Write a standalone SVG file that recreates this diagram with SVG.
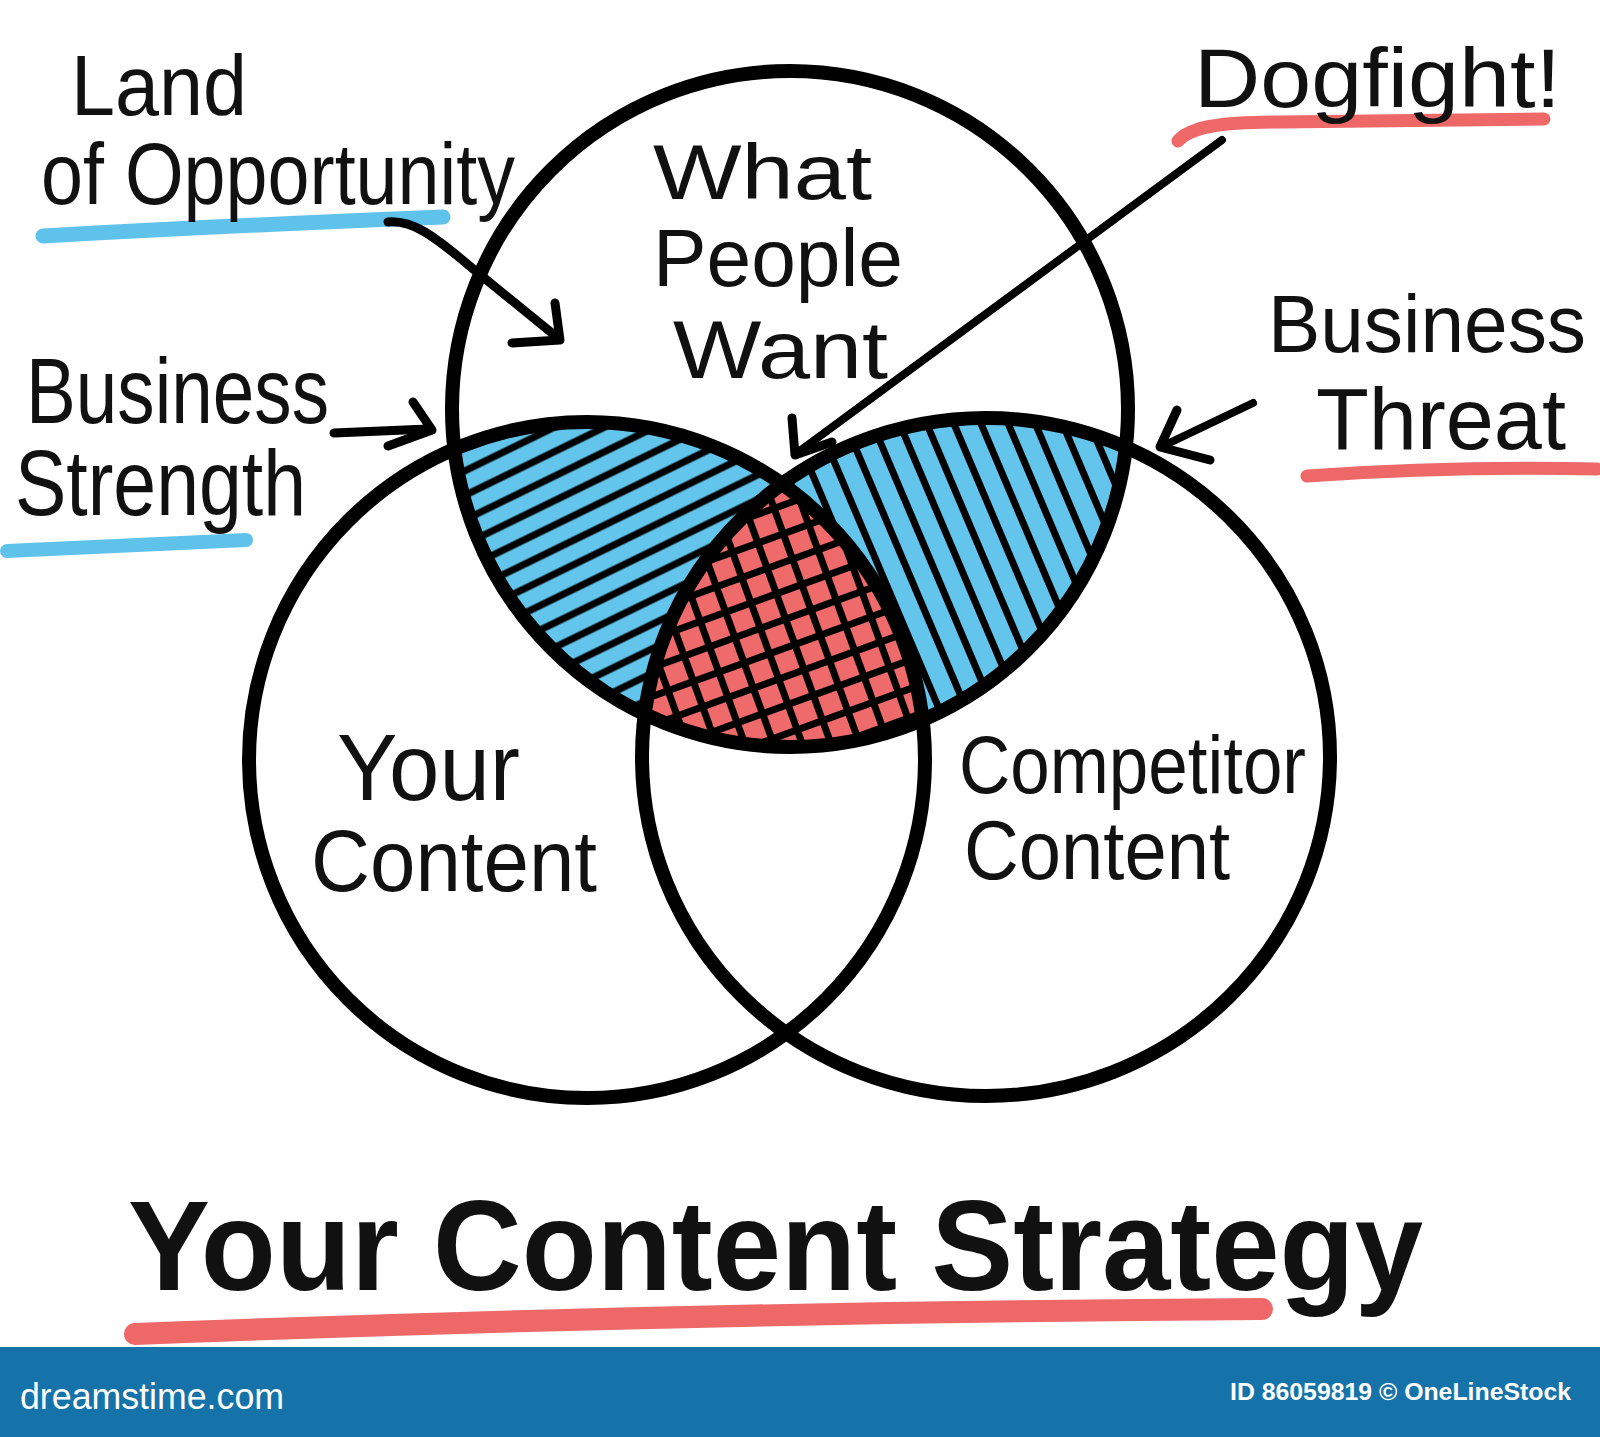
<svg xmlns="http://www.w3.org/2000/svg" width="1600" height="1437" viewBox="0 0 1600 1437">
<style>
.lbl{font-family:"Liberation Sans","Open Sans",sans-serif;fill:#111}
.ring{fill:none;stroke:#000;stroke-width:14}
.arr{fill:none;stroke:#000;stroke-width:9;stroke-linecap:round;stroke-linejoin:round}
.ulb{fill:none;stroke:#5fc2ea;stroke-width:15;stroke-linecap:round}
.ulr{fill:none;stroke:#ee6868;stroke-width:13;stroke-linecap:round}
</style>
<defs>
<clipPath id="cTop"><circle cx="790" cy="409" r="338"/></clipPath>
<clipPath id="cLeft"><circle cx="587" cy="760" r="338"/></clipPath>
<clipPath id="cRight"><ellipse cx="986" cy="757" rx="344" ry="339"/></clipPath>
<pattern id="hatchL" width="60" height="22" patternUnits="userSpaceOnUse" patternTransform="rotate(-26)">
<line x1="-1" y1="11" x2="61" y2="11" stroke="#000" stroke-width="7"/>
</pattern>
<pattern id="hatchR" width="60" height="25" patternUnits="userSpaceOnUse" patternTransform="rotate(67)">
<line x1="-1" y1="12.5" x2="61" y2="12.5" stroke="#000" stroke-width="7"/>
</pattern>
<pattern id="grid" width="27" height="27" patternUnits="userSpaceOnUse" patternTransform="rotate(-20)">
<line x1="-1" y1="13.5" x2="28" y2="13.5" stroke="#000" stroke-width="7"/>
<line x1="13.5" y1="-1" x2="13.5" y2="28" stroke="#000" stroke-width="7"/>
</pattern>
</defs>
<rect width="1600" height="1437" fill="#fff"/>

<!-- shaded regions -->
<g id="regions">
  <g clip-path="url(#cTop)">
    <circle cx="587" cy="760" r="338" fill="#64c5ec"/>
    <ellipse cx="986" cy="757" rx="344" ry="339" fill="#64c5ec"/>
    <g clip-path="url(#cLeft)"><rect x="400" y="380" width="600" height="400" fill="url(#hatchL)"/></g>
    <g clip-path="url(#cRight)"><rect x="600" y="380" width="560" height="400" fill="url(#hatchR)"/></g>
    <g clip-path="url(#cLeft)"><g clip-path="url(#cRight)">
      <rect x="600" y="450" width="350" height="320" fill="#ef6a6a"/>
      <rect x="600" y="450" width="350" height="320" fill="url(#grid)"/>
    </g></g>
  </g>
</g>

<g id="node-top"><circle class="ring" cx="790" cy="409" r="338"/></g>
<g id="node-left"><circle class="ring" cx="587" cy="760" r="338"/></g>
<g id="node-right"><ellipse class="ring" cx="986" cy="757" rx="344" ry="339"/></g>

<!-- underlines -->
<g id="underlines">
  <path class="ulb" d="M43,236 Q220,226 443,217"/>
  <path class="ulb" d="M7,551 Q120,546 246,540" style="stroke-width:14"/>
  <path class="ulr" d="M1178,141 C1190,127 1220,122 1280,122 L1544,119"/>
  <path class="ulr" d="M1307,476 Q1450,466 1597,469"/>
  <path class="ulr" d="M135,1334 Q700,1312 1262,1309" style="stroke-width:22"/>
</g>

<g id="connectors">
  <path class="arr" d="M388,222 C412,220 432,234 472,268 L558,338"/>
  <path class="arr" d="M555,303 L560,340 L512,343"/>
  <path class="arr" d="M334,433 L428,429"/>
  <path class="arr" d="M413,402 L432,430 L388,446"/>
  <path class="arr" d="M1222,140 L797,453" style="stroke-width:8"/>
  <path class="arr" d="M792,418 L795,455 L832,442"/>
  <path class="arr" d="M1253,403 L1163,446" style="stroke-width:8"/>
  <path class="arr" d="M1177,410 L1160,447 L1210,460"/>
</g>

<g id="label-land">
  <text class="lbl" x="71" y="115" font-size="86" textLength="176" lengthAdjust="spacingAndGlyphs">Land</text>
  <text class="lbl" x="41" y="204" font-size="88" textLength="474" lengthAdjust="spacingAndGlyphs">of Opportunity</text>
</g>
<g id="label-strength">
  <text class="lbl" x="26" y="423" font-size="92" textLength="303" lengthAdjust="spacingAndGlyphs">Business</text>
  <text class="lbl" x="15" y="515" font-size="92" textLength="291" lengthAdjust="spacingAndGlyphs">Strength</text>
</g>
<g id="label-want">
  <text class="lbl" x="653" y="199" font-size="78" textLength="219" lengthAdjust="spacingAndGlyphs">What</text>
  <text class="lbl" x="653" y="286" font-size="82" textLength="250" lengthAdjust="spacingAndGlyphs">People</text>
  <text class="lbl" x="673" y="378" font-size="82" textLength="215" lengthAdjust="spacingAndGlyphs">Want</text>
</g>
<g id="label-dogfight">
  <text class="lbl" x="1194" y="107" font-size="84" textLength="367" lengthAdjust="spacingAndGlyphs">Dogfight!</text>
</g>
<g id="label-threat">
  <text class="lbl" x="1268" y="352" font-size="81" textLength="318" lengthAdjust="spacingAndGlyphs">Business</text>
  <text class="lbl" x="1316" y="449" font-size="88" textLength="250" lengthAdjust="spacingAndGlyphs">Threat</text>
</g>
<g id="label-your">
  <text class="lbl" x="337" y="800" font-size="94" textLength="183" lengthAdjust="spacingAndGlyphs">Your</text>
  <text class="lbl" x="311" y="891" font-size="87" textLength="286" lengthAdjust="spacingAndGlyphs">Content</text>
</g>
<g id="label-competitor">
  <text class="lbl" x="959" y="793" font-size="82" textLength="347" lengthAdjust="spacingAndGlyphs">Competitor</text>
  <text class="lbl" x="964" y="879" font-size="83" textLength="266" lengthAdjust="spacingAndGlyphs">Content</text>
</g>
<g id="title">
  <text class="lbl" x="128" y="1290" font-size="128" font-weight="bold" textLength="1295" lengthAdjust="spacingAndGlyphs">Your Content Strategy</text>
</g>

<g id="footer">
  <rect x="0" y="1347" width="1600" height="90" fill="#1673a9"/>
  <text x="20" y="1409" font-family="Liberation Sans, sans-serif" font-size="36" fill="#fff" textLength="264" lengthAdjust="spacingAndGlyphs">dreamstime.com</text>
  <text x="1230" y="1400" font-family="Liberation Sans, sans-serif" font-size="24" font-weight="bold" fill="#fff" textLength="341" lengthAdjust="spacingAndGlyphs">ID 86059819 © OneLineStock</text>
</g>
</svg>
